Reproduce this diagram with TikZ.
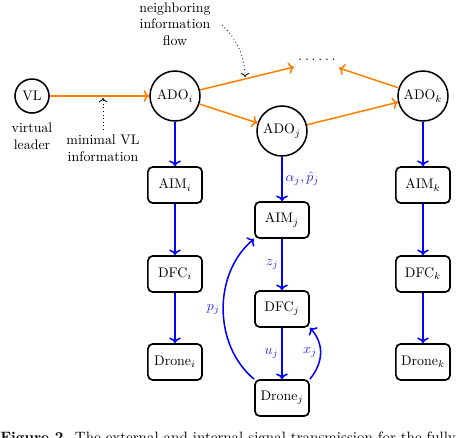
\documentclass[tikz,border=0pt]{standalone}
\usetikzlibrary{arrows.meta}
\begin{document}
\begin{tikzpicture}[x=0.72pt,y=-0.72pt,
  ado/.style={circle,draw,line width=1.1pt,minimum size=36pt,inner sep=0pt},
  vlnode/.style={circle,draw,line width=1.1pt,minimum size=24.5pt,inner sep=0pt},
  blk/.style={draw,line width=1.2pt,rounded corners=3.5pt,minimum width=39pt,minimum height=26pt,inner sep=0pt},
  oarr/.style={->,line width=1.1pt,draw=orange},
  barr/.style={->,line width=1.1pt,draw=blue},
  darr/.style={->,semithick,dotted},
  lbl/.style={text=blue!85!white,inner sep=2pt}
]
\useasboundingbox (0,0) rectangle (474,437);
\clip (0,0) rectangle (474,437);

% top row
\node[vlnode] (vl) at (32,96) {VL};
\node[ado] (adoi) at (175,96) {ADO$_i$};
\node[ado] (adoj) at (282,131) {ADO$_j$};
\node[ado] (adok) at (423,96) {ADO$_k$};
\node[anchor=base,inner sep=0pt] (dots) at (317,60) {.\hskip2pt.\hskip2pt.\hskip2pt.\hskip2pt.\hskip2pt.};
\coordinate (dl) at (294,67);
\coordinate (dr) at (339,68);

% texts
\node[align=center] (vltext) at (32,136) {virtual\\leader};
\node[align=center] (mintext) at (103,148) {minimal VL\\information};
\node[align=center] (nbtext) at (175,24) {neighboring\\information\\flow};
\coordinate (vlline) at (103,98);
\coordinate (nbs) at (222,25);
\coordinate (nbe) at (245,77);

% blocks
\node[blk] (aimi) at (175,185) {AIM$_i$};
\node[blk] (dfci) at (175,274) {DFC$_i$};
\node[blk] (dronei) at (175,362) {Drone$_i$};
\node[blk] (aimj) at (282,220) {AIM$_j$};
\node[blk] (dfcj) at (282,309) {DFC$_j$};
\node[blk] (dronej) at (282,398) {Drone$_j$};
\node[blk] (aimk) at (423,185) {AIM$_k$};
\node[blk] (dfck) at (423,274) {DFC$_k$};
\node[blk] (dronek) at (423,362) {Drone$_k$};

% orange connectors
\draw[oarr] (vl) -- (adoi);
\draw[oarr] (adoi) -- (dl);
\draw[oarr] (adok) -- (dr);
\draw[oarr] (adoi) -- (adoj);
\draw[oarr] (adoj) -- (adok);

% dotted pointers
\draw[darr] (mintext.north) -- (vlline);
\draw[darr] (nbs) .. controls (238,40) and (245,58) .. (nbe);

% blue connectors
\draw[barr] (adoi) -- (aimi);
\draw[barr] (aimi) -- (dfci);
\draw[barr] (dfci) -- (dronei);
\draw[barr] (adoj) -- node[lbl,right] {$\alpha_j,\hat{p}_j$} (aimj);
\draw[barr] (aimj) -- node[lbl,left] {$z_j$} (dfcj);
\draw[barr] (dfcj) -- node[lbl,left] {$u_j$} (dronej);
\draw[barr] (adok) -- (aimk);
\draw[barr] (aimk) -- (dfck);
\draw[barr] (dfck) -- (dronek);
\draw[barr] (dronej.north west) .. controls (213,345) and (213,273) .. node[lbl,left] {$p_j$} (aimj.south west);
\draw[barr] (dronej.north east) .. controls (324,362) and (324,343) .. node[lbl,left,pos=0.5] {$x_j$} (dfcj.south east);

% caption (cut off at the bottom edge, as in the reference)
\node[anchor=base west,inner sep=0pt,font=\fontsize{10.8pt}{13pt}\selectfont] (cap) at (0,442) {\textbf{Figure 2.} The external and internal signal transmission for the fully};
\end{tikzpicture}
\end{document}
